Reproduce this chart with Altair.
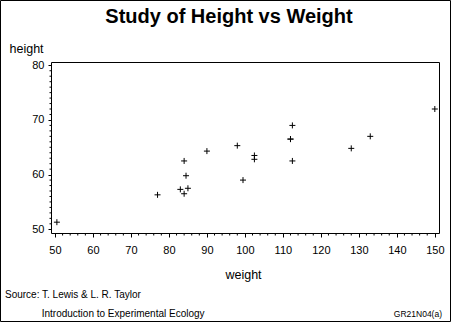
import altair as alt
import pandas as pd

# Data (SASHELP.CLASS style: weight vs height)
weight = [112.5, 84.0, 98.0, 102.5, 102.5, 83.0, 84.5, 112.5, 84.0, 99.5,
          50.5, 90.0, 77.0, 112.0, 150.0, 128.0, 133.0, 85.0, 112.0]
height = [69.0, 56.5, 65.3, 62.8, 63.5, 57.3, 59.8, 62.5, 62.5, 59.0,
          51.3, 64.3, 56.3, 66.5, 72.0, 64.8, 67.0, 57.5, 66.5]

x_major = [50, 60, 70, 80, 90, 100, 110, 120, 130, 140, 150]
y_major = [50, 60, 70, 80]
x_minor = [v for v in range(50, 151, 2) if v % 10 != 0]
y_minor = [v for v in range(50, 81) if v % 10 != 0]

title_text = "Study of Height vs Weight"
foot1 = "Source: T. Lewis & L. R. Taylor"
foot2 = "Introduction to Experimental Ecology"
foot3 = "GR21N04(a)"

FONT = "Liberation Sans"
W, H = 388, 171

df = pd.DataFrame({"weight": weight, "height": height})

xscale = alt.Scale(domain=[48.95, 151.1], nice=False, zero=False)
yscale = alt.Scale(domain=[49.32, 80.6], nice=False, zero=False)

xaxis = alt.Axis(values=x_major, title="weight", grid=False, domain=False,
                 tickColor="black", tickSize=4, tickWidth=1,
                 labelFont=FONT, labelFontSize=11, labelColor="black",
                 labelPadding=7, labelOverlap=False, labelFlush=False,
                 titleFont=FONT, titleFontSize=12.5, titleFontWeight="normal",
                 titleColor="black", titleX=192, titleY=45,
                 titleBaseline="alphabetic", titleAlign="center")
yaxis = alt.Axis(values=y_major, title="height", grid=False, domain=False,
                 tickColor="black", tickSize=3, tickWidth=1,
                 labelFont=FONT, labelFontSize=11, labelColor="black",
                 labelPadding=4, labelOverlap=False, labelFlush=False,
                 titleFont=FONT, titleFontSize=12.5, titleFontWeight="normal",
                 titleColor="black", titleAngle=0, titleX=-42, titleY=-10,
                 titleAlign="left", titleBaseline="alphabetic")

points = alt.Chart(df).mark_point(
    shape="M-1,0H1M0,-1V1", size=36, filled=False, stroke="black",
    strokeWidth=1, opacity=1
).encode(
    x=alt.X("weight:Q", scale=xscale, axis=xaxis),
    y=alt.Y("height:Q", scale=yscale, axis=yaxis),
)

xminor = alt.Chart(pd.DataFrame({"weight": x_minor})).mark_rule(
    color="black", strokeWidth=1
).encode(
    x=alt.X("weight:Q", scale=xscale, axis=xaxis),
    y=alt.value(H), y2=alt.value(H + 2.5),
)

yminor = alt.Chart(pd.DataFrame({"height": y_minor})).mark_rule(
    color="black", strokeWidth=1
).encode(
    y=alt.Y("height:Q", scale=yscale, axis=yaxis),
    x=alt.value(-1.5), x2=alt.value(0),
)

texts = pd.DataFrame({"t": [title_text]})
title = alt.Chart(texts).mark_text(
    font=FONT, fontSize=20, fontWeight="bold", color="black",
    align="center", baseline="alphabetic"
).encode(text="t:N", x=alt.value(178), y=alt.value(-39))

f1 = alt.Chart(pd.DataFrame({"t": [foot1]})).mark_text(
    font=FONT, fontSize=10, color="black", align="left", baseline="alphabetic"
).encode(text="t:N", x=alt.value(-46), y=alt.value(236))

f2 = alt.Chart(pd.DataFrame({"t": [foot2]})).mark_text(
    font=FONT, fontSize=10, color="black", align="left", baseline="alphabetic"
).encode(text="t:N", x=alt.value(-9.3), y=alt.value(255))

f3 = alt.Chart(pd.DataFrame({"t": [foot3]})).mark_text(
    font=FONT, fontSize=8.5, color="black", align="right", baseline="alphabetic"
).encode(text="t:N", x=alt.value(391), y=alt.value(255))

border = alt.Chart(pd.DataFrame({"t": [0]})).mark_rect(
    fill=None, stroke="black", strokeWidth=1
).encode(
    x=alt.value(-50.5), x2=alt.value(W + 11.5),
    y=alt.value(-61.5), y2=alt.value(H + 88.5),
)

chart = alt.layer(points, xminor, yminor, title, f1, f2, f3, border).properties(
    width=W, height=H,
    autosize=alt.AutoSizeParams(type="none"),
    padding={"left": 51, "top": 62, "right": 12, "bottom": 89},
    background="white",
).configure_view(stroke="black", strokeWidth=1, fill="white")

chart.save("out.html", embed_options={"renderer": "svg", "actions": False})
